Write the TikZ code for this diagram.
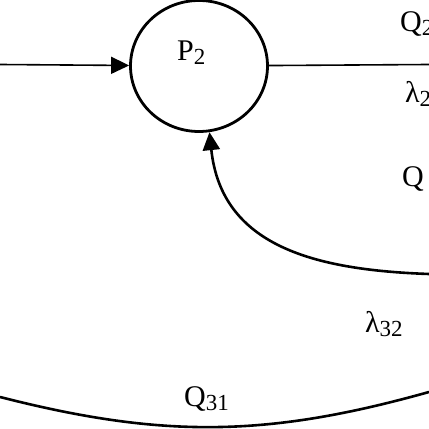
\documentclass[tikz,border=0pt]{standalone}
\usepackage{fontspec}
\setmainfont{Liberation Serif}
\usepackage{tikz}
\usetikzlibrary{arrows.meta,shapes.geometric}

\newcommand{\lowsub}[1]{\raisebox{-4pt}{\fontsize{23}{23}\selectfont #1}}

\begin{document}
\begin{tikzpicture}[x=1pt,y=1pt]
			\tikzstyle{proc} = [draw, ellipse, line width=2.8pt, inner sep=0pt, minimum width=137pt, minimum height=131pt]
			\tikzstyle{lbl} = [anchor=base west, inner sep=0pt, font=\fontsize{30}{32}\selectfont]
			\tikzstyle{flow} = [line width=1.6pt]
			\tikzstyle{trans} = [line width=2.6pt]
			\tikzstyle{tip} = [-{Triangle[length=18pt,width=17pt]}]
			\useasboundingbox (0,0) rectangle (429,429);
			\clip (0,0) rectangle (429,429);
			% process and its label
			\node[proc] (p2) at (199,363) {};
			\node[lbl] (p2lbl) at (177,368) {P\lowsub{2}};
			% free ends outside the crop
			\coordinate (in) at (0,364.5);
			\coordinate (out) at (429,364.5);
			\coordinate (r32) at (429,155);
			\coordinate (l31) at (0,32);
			\coordinate (r31) at (429,37);
			% connectors
			\draw[flow,tip] (in) -- (p2);
			\draw[flow] (p2) -- (out);
			\draw[trans,tip] (r32) to[out=178, in=-84, looseness=1.12] (p2.-81);
			\draw[trans] (l31) to[bend right=15] (r31);
			% rates
			\node[lbl] (q2) at (400,397) {Q\lowsub{2}};
			\node[lbl] (lam2) at (405,326) {λ\lowsub{2}};
			\node[lbl] (q3) at (402,242) {Q};
			\node[lbl] (lam32) at (365,96) {λ\lowsub{32}};
			\node[lbl] (q31) at (184,22) {Q\lowsub{31}};
		\end{tikzpicture}
\end{document}
